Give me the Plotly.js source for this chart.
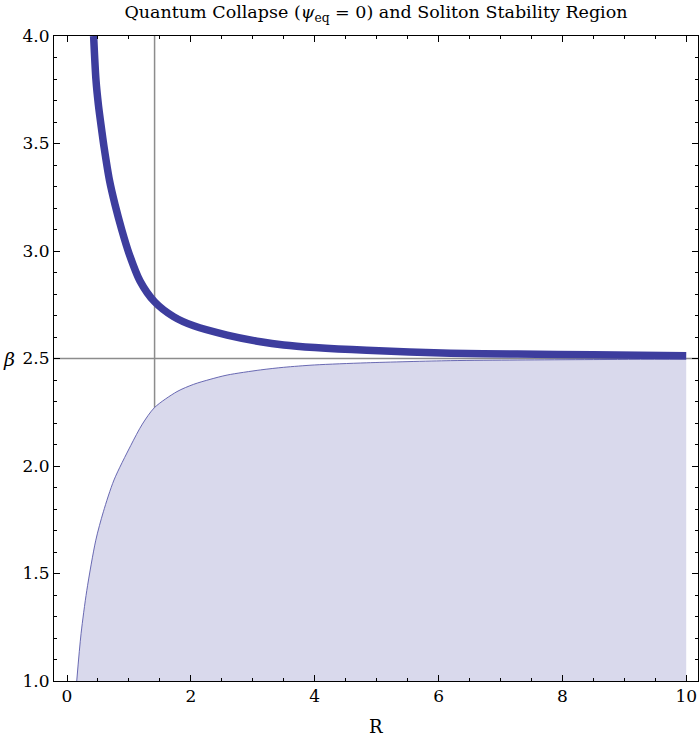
<!DOCTYPE html>
<html>
<head>
<meta charset="utf-8">
<script src="https://cdn.plot.ly/plotly-3.0.1.min.js"></script>
<style>html,body{margin:0;padding:0;background:#fff;}</style>
</head>
<body>
<div id="chart" style="width:700px;height:739px;"></div>
<script>
// Upper curve: quantum collapse boundary (psi_eq = 0)
var upperR = [0.43, 0.468, 0.507, 0.56, 0.60, 0.685, 0.777, 0.885, 1.0, 1.18, 1.414, 1.72, 2.046, 2.586, 3.126, 3.5, 4.0, 4.84, 6.19, 7.27, 8.5, 10];
var upperBeta = [4.0, 3.795, 3.68, 3.563, 3.48, 3.33, 3.214, 3.098, 2.99, 2.86, 2.764, 2.695, 2.652, 2.609, 2.578, 2.563, 2.551, 2.538, 2.525, 2.521, 2.517, 2.513];
// Lower curve: soliton stability region boundary
var lowerR = [0.157, 0.227, 0.319, 0.465, 0.587, 0.759, 1.029, 1.217, 1.414, 1.776, 2.046, 2.31, 2.586, 3.126, 3.5, 4.0, 4.84, 6.19, 7.27, 8.5, 10];
var lowerBeta = [1.0, 1.22, 1.42, 1.655, 1.787, 1.935, 2.095, 2.195, 2.272, 2.346, 2.38, 2.403, 2.423, 2.447, 2.459, 2.470, 2.480, 2.490, 2.493, 2.495, 2.497];
// Reference lines
var refR = Math.SQRT2;
var refBeta = 2.5;
var xTickVals = [0, 2, 4, 6, 8, 10];
var yTickVals = [1.0, 1.5, 2.0, 2.5, 3.0, 3.5, 4.0];

var serif = 'DejaVu Serif';

var traces = [
  {
    x: lowerR, y: lowerBeta, type: 'scatter', mode: 'lines',
    line: {color: '#5a5aaa', width: 0.9, shape: 'spline', smoothing: 0.8},
    fill: 'tozeroy', fillcolor: '#d9d9ec',
    hoverinfo: 'skip', showlegend: false
  },
  {
    x: upperR, y: upperBeta, type: 'scatter', mode: 'lines',
    line: {color: '#3d3d9e', width: 7.5, shape: 'spline', smoothing: 0.8},
    hoverinfo: 'skip', showlegend: false
  }
];

var axisCommon = {
  showgrid: false, zeroline: false,
  showline: true, linecolor: '#000', linewidth: 1, mirror: 'ticks',
  ticks: 'inside', ticklen: 6, tickwidth: 1, tickcolor: '#000',
  tickfont: {family: serif, size: 17, color: '#000'}
};

var layout = {
  width: 700, height: 739,
  margin: {l: 54, r: 2, t: 36, b: 58},
  paper_bgcolor: '#fff', plot_bgcolor: '#fff',
  font: {family: serif, color: '#000'},
  title: {
    text: 'Quantum Collapse (<i>ψ</i><sub>eq</sub> = 0) and Soliton Stability Region',
    font: {family: serif, size: 17.5, color: '#000'},
    xref: 'paper', x: 0.5, xanchor: 'center',
    yref: 'container', y: 1 - 12/739, yanchor: 'middle'
  },
  xaxis: Object.assign({}, axisCommon, {
    range: [-0.21, 10.19], tickmode: 'array', tickvals: xTickVals,
    minor: {dtick: 0.5, tick0: 0, ticks: 'inside', ticklen: 3, tickcolor: '#000', showgrid: false}
  }),
  yaxis: Object.assign({}, axisCommon, {
    range: [1, 4], tickmode: 'array', tickvals: yTickVals, tickformat: '.1f',
    minor: {dtick: 0.1, tick0: 1, ticks: 'inside', ticklen: 3, tickcolor: '#000', showgrid: false}
  }),
  shapes: [
    {type: 'line', layer: 'below', xref: 'x', yref: 'paper', x0: refR, x1: refR, y0: 0, y1: 1,
     line: {color: '#8c8c8c', width: 1.5}},
    {type: 'line', layer: 'below', xref: 'paper', yref: 'y', x0: 0, x1: 1, y0: refBeta, y1: refBeta,
     line: {color: '#8c8c8c', width: 1.5}}
  ],
  annotations: [
    {text: 'R', xref: 'paper', yref: 'paper', x: 0.5, y: -0.0899, xanchor: 'center', yanchor: 'bottom',
     showarrow: false, font: {family: serif, size: 18, color: '#000'}},
    {text: '<i>β</i>', xref: 'paper', yref: 'y', x: -0.07, y: refBeta, xanchor: 'center', yanchor: 'middle',
     showarrow: false, font: {family: serif, size: 19, color: '#000'}}
  ]
};

Plotly.newPlot('chart', traces, layout, {displayModeBar: false, staticPlot: true});
</script>
</body>
</html>
